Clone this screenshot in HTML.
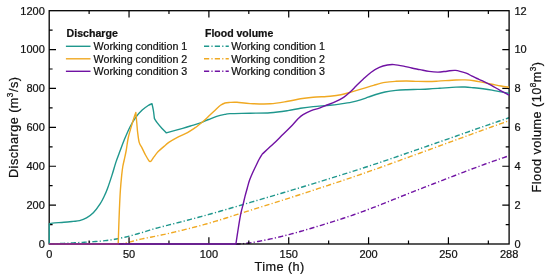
<!DOCTYPE html>
<html><head><meta charset="utf-8"><style>html,body{margin:0;padding:0;background:#fff;overflow:hidden}svg{display:block}</style></head><body>
<svg width="550" height="278" viewBox="0 0 550 278">
<rect width="550" height="278" fill="#fff"/>
<path d="M49.20 244.00 L50.80 243.93 L52.39 243.86 L53.99 243.78 L55.59 243.71 L57.18 243.63 L58.78 243.56 L60.38 243.48 L61.98 243.40 L63.57 243.33 L65.17 243.25 L66.77 243.17 L68.36 243.09 L69.96 243.01 L71.56 242.93 L73.15 242.85 L74.75 242.77 L76.35 242.69 L77.94 242.61 L79.54 242.52 L81.14 242.44 L82.73 242.35 L84.33 242.26 L85.93 242.17 L87.53 242.08 L89.12 241.98 L90.72 241.88 L92.32 241.77 L93.91 241.66 L95.51 241.54 L97.11 241.41 L98.70 241.28 L100.30 241.14 L101.90 240.99 L103.49 240.83 L105.09 240.66 L106.69 240.47 L108.28 240.27 L109.88 240.06 L111.48 239.83 L113.08 239.58 L114.67 239.31 L116.27 239.02 L117.87 238.72 L119.46 238.40 L121.06 238.06 L122.66 237.71 L124.25 237.35 L125.85 236.97 L127.45 236.58 L129.04 236.17 L130.64 235.76 L132.24 235.33 L133.83 234.89 L135.43 234.45 L137.03 233.99 L138.62 233.53 L140.22 233.06 L141.82 232.59 L143.42 232.11 L145.01 231.63 L146.61 231.14 L148.21 230.65 L149.80 230.15 L151.40 229.65 L153.00 229.15 L154.59 228.69 L156.19 228.25 L157.79 227.81 L159.38 227.38 L160.98 226.96 L162.58 226.55 L164.18 226.14 L165.77 225.74 L167.37 225.34 L168.97 224.94 L170.56 224.54 L172.16 224.14 L173.76 223.73 L175.35 223.33 L176.95 222.92 L178.55 222.51 L180.14 222.10 L181.74 221.69 L183.34 221.28 L184.93 220.86 L186.53 220.45 L188.13 220.03 L189.73 219.61 L191.32 219.18 L192.92 218.76 L194.52 218.34 L196.11 217.91 L197.71 217.48 L199.31 217.05 L200.90 216.62 L202.50 216.18 L204.10 215.74 L205.69 215.31 L207.29 214.86 L208.89 214.42 L210.48 213.97 L212.08 213.52 L213.68 213.07 L215.28 212.62 L216.87 212.16 L218.47 211.71 L220.07 211.25 L221.66 210.79 L223.26 210.33 L224.86 209.87 L226.45 209.40 L228.05 208.94 L229.65 208.47 L231.24 208.01 L232.84 207.54 L234.44 207.07 L236.03 206.61 L237.63 206.14 L239.23 205.67 L240.83 205.21 L242.42 204.74 L244.02 204.27 L245.62 203.80 L247.21 203.34 L248.81 202.87 L250.41 202.40 L252.00 201.93 L253.60 201.47 L255.20 201.00 L256.79 200.53 L258.39 200.06 L259.99 199.59 L261.58 199.13 L263.18 198.66 L264.78 198.19 L266.38 197.72 L267.97 197.25 L269.57 196.78 L271.17 196.31 L272.76 195.84 L274.36 195.37 L275.96 194.90 L277.55 194.43 L279.15 193.95 L280.75 193.48 L282.34 193.01 L283.94 192.53 L285.54 192.06 L287.13 191.58 L288.73 191.10 L290.33 190.62 L291.93 190.15 L293.52 189.67 L295.12 189.18 L296.72 188.70 L298.31 188.22 L299.91 187.74 L301.51 187.25 L303.10 186.76 L304.70 186.28 L306.30 185.79 L307.89 185.30 L309.49 184.81 L311.09 184.32 L312.68 183.83 L314.28 183.34 L315.88 182.85 L317.48 182.36 L319.07 181.86 L320.67 181.37 L322.27 180.88 L323.86 180.38 L325.46 179.89 L327.06 179.39 L328.65 178.90 L330.25 178.40 L331.85 177.91 L333.44 177.41 L335.04 176.91 L336.64 176.41 L338.23 175.92 L339.83 175.42 L341.43 174.91 L343.03 174.41 L344.62 173.91 L346.22 173.41 L347.82 172.90 L349.41 172.40 L351.01 171.89 L352.61 171.38 L354.20 170.87 L355.80 170.36 L357.40 169.85 L358.99 169.34 L360.59 168.83 L362.19 168.31 L363.78 167.79 L365.38 167.27 L366.98 166.75 L368.57 166.22 L370.17 165.70 L371.77 165.17 L373.37 164.64 L374.96 164.11 L376.56 163.57 L378.16 163.04 L379.75 162.50 L381.35 161.96 L382.95 161.42 L384.54 160.88 L386.14 160.33 L387.74 159.79 L389.33 159.24 L390.93 158.70 L392.53 158.15 L394.12 157.60 L395.72 157.05 L397.32 156.51 L398.92 155.96 L400.51 155.41 L402.11 154.86 L403.71 154.30 L405.30 153.75 L406.90 153.20 L408.50 152.65 L410.09 152.10 L411.69 151.55 L413.29 150.99 L414.88 150.44 L416.48 149.89 L418.08 149.34 L419.68 148.78 L421.27 148.23 L422.87 147.68 L424.47 147.12 L426.06 146.57 L427.66 146.02 L429.26 145.46 L430.85 144.91 L432.45 144.35 L434.05 143.80 L435.64 143.24 L437.24 142.69 L438.84 142.13 L440.43 141.57 L442.03 141.02 L443.63 140.46 L445.23 139.90 L446.82 139.34 L448.42 138.79 L450.02 138.23 L451.61 137.67 L453.21 137.11 L454.81 136.55 L456.40 135.99 L458.00 135.42 L459.60 134.86 L461.19 134.30 L462.79 133.74 L464.39 133.18 L465.98 132.62 L467.58 132.06 L469.18 131.50 L470.78 130.94 L472.37 130.38 L473.97 129.82 L475.57 129.26 L477.16 128.71 L478.76 128.15 L480.36 127.59 L481.95 127.04 L483.55 126.48 L485.15 125.93 L486.74 125.37 L488.34 124.82 L489.94 124.27 L491.53 123.72 L493.13 123.17 L494.73 122.62 L496.33 122.07 L497.92 121.53 L499.52 120.98 L501.12 120.44 L502.71 119.89 L504.31 119.35 L505.91 118.81 L507.50 118.27 L509.10 117.73" stroke="#1f978d" fill="none" stroke-width="1.40" stroke-linejoin="round" stroke-dasharray="5.2 2.2 1.2 2.2"/>
<path d="M118.34 244.00 L119.94 243.90 L121.54 243.70 L123.14 243.44 L124.73 243.14 L126.33 242.82 L127.93 242.46 L129.52 242.08 L131.12 241.67 L132.72 241.24 L134.31 240.80 L135.91 240.33 L137.51 239.90 L139.10 239.52 L140.70 239.16 L142.30 238.81 L143.89 238.47 L145.49 238.15 L147.09 237.84 L148.69 237.53 L150.28 237.24 L151.88 236.94 L153.48 236.63 L155.07 236.32 L156.67 236.00 L158.27 235.68 L159.86 235.34 L161.46 235.00 L163.06 234.66 L164.65 234.31 L166.25 233.96 L167.85 233.60 L169.44 233.24 L171.04 232.87 L172.64 232.50 L174.24 232.13 L175.83 231.75 L177.43 231.37 L179.03 230.99 L180.62 230.60 L182.22 230.22 L183.82 229.83 L185.41 229.43 L187.01 229.04 L188.61 228.64 L190.20 228.23 L191.80 227.83 L193.40 227.42 L194.99 227.01 L196.59 226.59 L198.19 226.17 L199.79 225.74 L201.38 225.31 L202.98 224.87 L204.58 224.43 L206.17 223.99 L207.77 223.54 L209.37 223.08 L210.96 222.62 L212.56 222.15 L214.16 221.68 L215.75 221.20 L217.35 220.72 L218.95 220.23 L220.54 219.74 L222.14 219.24 L223.74 218.74 L225.34 218.24 L226.93 217.73 L228.53 217.23 L230.13 216.72 L231.72 216.21 L233.32 215.71 L234.92 215.20 L236.51 214.69 L238.11 214.19 L239.71 213.68 L241.30 213.18 L242.90 212.67 L244.50 212.17 L246.09 211.66 L247.69 211.16 L249.29 210.66 L250.89 210.16 L252.48 209.65 L254.08 209.15 L255.68 208.65 L257.27 208.15 L258.87 207.65 L260.47 207.15 L262.06 206.64 L263.66 206.14 L265.26 205.64 L266.85 205.14 L268.45 204.64 L270.05 204.14 L271.64 203.64 L273.24 203.13 L274.84 202.63 L276.44 202.13 L278.03 201.62 L279.63 201.12 L281.23 200.61 L282.82 200.10 L284.42 199.60 L286.02 199.09 L287.61 198.58 L289.21 198.07 L290.81 197.56 L292.40 197.04 L294.00 196.53 L295.60 196.01 L297.19 195.50 L298.79 194.98 L300.39 194.46 L301.99 193.94 L303.58 193.42 L305.18 192.90 L306.78 192.38 L308.37 191.86 L309.97 191.34 L311.57 190.81 L313.16 190.29 L314.76 189.76 L316.36 189.24 L317.95 188.71 L319.55 188.19 L321.15 187.66 L322.74 187.13 L324.34 186.61 L325.94 186.08 L327.54 185.55 L329.13 185.02 L330.73 184.50 L332.33 183.97 L333.92 183.44 L335.52 182.91 L337.12 182.38 L338.71 181.84 L340.31 181.31 L341.91 180.78 L343.50 180.24 L345.10 179.71 L346.70 179.17 L348.29 178.63 L349.89 178.09 L351.49 177.54 L353.09 177.00 L354.68 176.45 L356.28 175.90 L357.88 175.35 L359.47 174.80 L361.07 174.25 L362.67 173.70 L364.26 173.14 L365.86 172.58 L367.46 172.02 L369.05 171.46 L370.65 170.90 L372.25 170.33 L373.84 169.77 L375.44 169.20 L377.04 168.63 L378.64 168.06 L380.23 167.48 L381.83 166.91 L383.43 166.33 L385.02 165.76 L386.62 165.18 L388.22 164.60 L389.81 164.02 L391.41 163.44 L393.01 162.86 L394.60 162.28 L396.20 161.70 L397.80 161.12 L399.39 160.54 L400.99 159.95 L402.59 159.37 L404.19 158.79 L405.78 158.21 L407.38 157.62 L408.98 157.04 L410.57 156.46 L412.17 155.88 L413.77 155.29 L415.36 154.71 L416.96 154.13 L418.56 153.55 L420.15 152.97 L421.75 152.39 L423.35 151.81 L424.94 151.23 L426.54 150.64 L428.14 150.06 L429.74 149.48 L431.33 148.90 L432.93 148.32 L434.53 147.74 L436.12 147.16 L437.72 146.57 L439.32 145.99 L440.91 145.41 L442.51 144.83 L444.11 144.24 L445.70 143.66 L447.30 143.07 L448.90 142.49 L450.49 141.90 L452.09 141.32 L453.69 140.73 L455.29 140.15 L456.88 139.56 L458.48 138.98 L460.08 138.39 L461.67 137.80 L463.27 137.22 L464.87 136.63 L466.46 136.04 L468.06 135.46 L469.66 134.87 L471.25 134.29 L472.85 133.70 L474.45 133.12 L476.04 132.54 L477.64 131.95 L479.24 131.37 L480.84 130.79 L482.43 130.21 L484.03 129.64 L485.63 129.06 L487.22 128.49 L488.82 127.91 L490.42 127.34 L492.01 126.77 L493.61 126.20 L495.21 125.63 L496.80 125.06 L498.40 124.49 L500.00 123.92 L501.59 123.36 L503.19 122.80 L504.79 122.23 L506.39 121.67 L507.98 121.11 L509.10 120.72" stroke="#f0a922" fill="none" stroke-width="1.40" stroke-linejoin="round" stroke-dasharray="5.2 2.2 1.2 2.2"/>
<path d="M235.56 244.00 L237.15 243.99 L238.75 243.94 L240.35 243.86 L241.94 243.75 L243.54 243.61 L245.14 243.45 L246.73 243.27 L248.33 243.06 L249.93 242.84 L251.52 242.60 L253.12 242.35 L254.72 242.09 L256.31 241.81 L257.91 241.52 L259.51 241.22 L261.11 240.91 L262.70 240.59 L264.30 240.27 L265.90 239.94 L267.49 239.60 L269.09 239.26 L270.69 238.91 L272.28 238.56 L273.88 238.20 L275.48 237.84 L277.07 237.47 L278.67 237.10 L280.27 236.72 L281.86 236.34 L283.46 235.94 L285.06 235.55 L286.66 235.15 L288.25 234.74 L289.85 234.32 L291.45 233.90 L293.04 233.48 L294.64 233.05 L296.24 232.61 L297.83 232.17 L299.43 231.72 L301.03 231.26 L302.62 230.80 L304.22 230.34 L305.82 229.88 L307.41 229.41 L309.01 228.94 L310.61 228.46 L312.21 227.99 L313.80 227.51 L315.40 227.03 L317.00 226.54 L318.59 226.06 L320.19 225.57 L321.79 225.09 L323.38 224.60 L324.98 224.10 L326.58 223.61 L328.17 223.11 L329.77 222.61 L331.37 222.11 L332.96 221.61 L334.56 221.10 L336.16 220.59 L337.76 220.08 L339.35 219.57 L340.95 219.05 L342.55 218.53 L344.14 218.00 L345.74 217.48 L347.34 216.94 L348.93 216.40 L350.53 215.86 L352.13 215.31 L353.72 214.76 L355.32 214.20 L356.92 213.64 L358.51 213.07 L360.11 212.49 L361.71 211.91 L363.31 211.32 L364.90 210.73 L366.50 210.13 L368.10 209.53 L369.69 208.93 L371.29 208.31 L372.89 207.70 L374.48 207.08 L376.08 206.46 L377.68 205.83 L379.27 205.20 L380.87 204.57 L382.47 203.93 L384.06 203.30 L385.66 202.66 L387.26 202.02 L388.86 201.38 L390.45 200.74 L392.05 200.10 L393.65 199.46 L395.24 198.82 L396.84 198.18 L398.44 197.54 L400.03 196.90 L401.63 196.26 L403.23 195.63 L404.82 194.99 L406.42 194.36 L408.02 193.72 L409.61 193.09 L411.21 192.46 L412.81 191.83 L414.41 191.21 L416.00 190.58 L417.60 189.95 L419.20 189.33 L420.79 188.70 L422.39 188.08 L423.99 187.46 L425.58 186.84 L427.18 186.22 L428.78 185.60 L430.37 184.99 L431.97 184.37 L433.57 183.76 L435.16 183.14 L436.76 182.52 L438.36 181.91 L439.96 181.30 L441.55 180.68 L443.15 180.06 L444.75 179.45 L446.34 178.83 L447.94 178.21 L449.54 177.59 L451.13 176.97 L452.73 176.36 L454.33 175.74 L455.92 175.12 L457.52 174.50 L459.12 173.88 L460.71 173.26 L462.31 172.65 L463.91 172.03 L465.51 171.42 L467.10 170.81 L468.70 170.20 L470.30 169.60 L471.89 169.00 L473.49 168.40 L475.09 167.80 L476.68 167.21 L478.28 166.62 L479.88 166.03 L481.47 165.44 L483.07 164.86 L484.67 164.28 L486.26 163.70 L487.86 163.13 L489.46 162.55 L491.06 161.98 L492.65 161.42 L494.25 160.86 L495.85 160.30 L497.44 159.74 L499.04 159.19 L500.64 158.64 L502.23 158.09 L503.83 157.55 L505.43 157.01 L507.02 156.47 L508.62 155.93 L509.10 155.77" stroke="#7012a3" fill="none" stroke-width="1.40" stroke-linejoin="round" stroke-dasharray="5.2 2.2 1.2 2.2"/>
<rect x="49.20" y="10.70" width="459.90" height="233.30" fill="none" stroke="#000" stroke-width="1.3"/>
<path d="M49.20 224.56h3.40M509.10 224.56h-3.40M49.20 205.12h6.80M509.10 205.12h-6.80M49.20 185.67h3.40M509.10 185.67h-3.40M49.20 166.23h6.80M509.10 166.23h-6.80M49.20 146.79h3.40M509.10 146.79h-3.40M49.20 127.35h6.80M509.10 127.35h-6.80M49.20 107.91h3.40M509.10 107.91h-3.40M49.20 88.47h6.80M509.10 88.47h-6.80M49.20 69.02h3.40M509.10 69.02h-3.40M49.20 49.58h6.80M509.10 49.58h-6.80M49.20 30.14h3.40M509.10 30.14h-3.40M89.12 244.00v-3.40M89.12 10.70v3.40M129.04 244.00v-6.80M129.04 10.70v6.80M168.97 244.00v-3.40M168.97 10.70v3.40M208.89 244.00v-6.80M208.89 10.70v6.80M248.81 244.00v-3.40M248.81 10.70v3.40M288.73 244.00v-6.80M288.73 10.70v6.80M328.65 244.00v-3.40M328.65 10.70v3.40M368.57 244.00v-6.80M368.57 10.70v6.80M408.50 244.00v-3.40M408.50 10.70v3.40M448.42 244.00v-6.80M448.42 10.70v6.80M488.34 244.00v-3.40M488.34 10.70v3.40" stroke="#000" stroke-width="1.2" fill="none"/>
<path d="M49.30 244.00L49.30 223.70C49.83 223.77 50.07 223.37 52.50 223.10C54.93 222.83 60.48 222.58 63.90 222.30C67.32 222.02 70.38 221.68 73.00 221.40C75.62 221.12 77.35 221.18 79.60 220.60C81.85 220.02 84.22 219.20 86.50 217.90C88.78 216.60 91.03 215.13 93.30 212.80C95.57 210.47 98.28 206.65 100.10 203.90C101.92 201.15 102.95 198.92 104.20 196.30C105.45 193.68 106.30 191.73 107.60 188.20C108.90 184.67 110.58 179.53 112.00 175.10C113.42 170.67 114.75 165.65 116.10 161.60C117.45 157.55 118.75 154.40 120.10 150.80C121.45 147.20 122.53 144.02 124.20 140.00C125.87 135.98 128.12 130.55 130.10 126.70C132.08 122.85 134.08 119.67 136.10 116.90C138.12 114.13 140.18 112.00 142.20 110.10C144.22 108.20 146.57 106.57 148.20 105.50C149.83 104.43 151.37 104.00 152.00 103.70C152.23 104.83 153.00 108.03 153.40 110.50C153.80 112.97 154.23 117.17 154.40 118.50C154.88 119.23 156.07 121.28 157.30 122.90C158.53 124.52 160.30 126.53 161.80 128.20C163.30 129.87 165.55 132.12 166.30 132.90C169.03 132.13 178.35 129.55 182.70 128.30C187.05 127.05 189.43 126.30 192.40 125.40C195.37 124.50 197.80 123.88 200.50 122.90C203.20 121.92 205.90 120.58 208.60 119.50C211.30 118.42 214.00 117.25 216.70 116.40C219.40 115.55 222.58 114.87 224.80 114.40C227.02 113.93 225.77 113.80 230.00 113.60C234.23 113.40 243.48 113.35 250.20 113.20C256.92 113.05 264.02 113.13 270.30 112.70C276.58 112.27 282.87 111.33 287.90 110.60C292.93 109.87 296.30 108.97 300.50 108.30C304.70 107.63 308.18 107.10 313.10 106.60C318.02 106.10 325.37 105.75 330.00 105.30C334.63 104.85 337.27 104.43 340.90 103.90C344.53 103.37 348.53 102.77 351.80 102.10C355.07 101.43 357.77 100.72 360.50 99.90C363.23 99.08 365.65 98.10 368.20 97.20C370.75 96.30 373.00 95.37 375.80 94.50C378.60 93.63 381.65 92.68 385.00 92.00C388.35 91.32 392.27 90.78 395.90 90.40C399.53 90.02 403.17 89.87 406.80 89.70C410.43 89.53 414.07 89.52 417.70 89.40C421.33 89.28 424.97 89.18 428.60 89.00C432.23 88.82 434.93 88.62 439.50 88.30C444.07 87.98 451.75 87.32 456.00 87.10C460.25 86.88 462.00 86.88 465.00 87.00C468.00 87.12 471.00 87.50 474.00 87.80C477.00 88.10 480.00 88.42 483.00 88.80C486.00 89.18 489.00 89.58 492.00 90.10C495.00 90.62 498.15 91.37 501.00 91.90C503.85 92.43 507.75 93.07 509.10 93.30" stroke="#1f978d" fill="none" stroke-width="1.40" stroke-linejoin="round"/>
<path d="M49.20 244.00L118.20 244.00C118.33 240.00 118.77 226.50 119.00 220.00C119.23 213.50 119.37 210.00 119.60 205.00C119.83 200.00 120.05 194.98 120.40 190.00C120.75 185.02 121.30 179.02 121.70 175.10C122.10 171.18 122.38 169.02 122.80 166.50C123.22 163.98 123.63 162.67 124.20 160.00C124.77 157.33 125.53 154.17 126.20 150.50C126.87 146.83 127.23 142.38 128.20 138.00C129.17 133.62 130.73 128.47 132.00 124.20C133.27 119.93 135.17 114.37 135.80 112.40C135.98 114.37 136.60 120.93 136.90 124.20C137.20 127.47 137.22 128.97 137.60 132.00C137.98 135.03 138.45 139.72 139.20 142.40C139.95 145.08 141.05 146.00 142.10 148.10C143.15 150.20 144.35 152.88 145.50 155.00C146.65 157.12 148.23 159.70 149.00 160.80C149.77 161.90 149.92 161.47 150.10 161.60C150.33 161.43 150.83 161.42 151.50 160.60C152.17 159.78 152.98 158.20 154.10 156.70C155.22 155.20 156.55 153.32 158.20 151.60C159.85 149.88 162.23 147.93 164.00 146.40C165.77 144.87 166.57 143.92 168.80 142.40C171.03 140.88 174.28 138.93 177.40 137.30C180.52 135.67 184.45 134.25 187.50 132.60C190.55 130.95 194.33 128.27 195.70 127.40C196.82 126.50 200.25 123.85 202.40 122.00C204.55 120.15 206.48 118.27 208.60 116.30C210.72 114.33 213.12 112.03 215.10 110.20C217.08 108.37 218.85 106.50 220.50 105.30C222.15 104.10 223.42 103.48 225.00 103.00C226.58 102.52 228.00 102.52 230.00 102.40C232.00 102.28 233.63 102.10 237.00 102.30C240.37 102.50 244.65 103.35 250.20 103.60C255.75 103.85 264.02 104.18 270.30 103.80C276.58 103.42 282.87 102.13 287.90 101.30C292.93 100.47 296.30 99.47 300.50 98.80C304.70 98.13 308.18 97.73 313.10 97.30C318.02 96.87 325.37 96.62 330.00 96.20C334.63 95.78 337.27 95.53 340.90 94.80C344.53 94.07 348.17 92.83 351.80 91.80C355.43 90.77 359.07 89.68 362.70 88.60C366.33 87.52 369.88 86.33 373.60 85.30C377.32 84.27 381.28 83.07 385.00 82.40C388.72 81.73 392.27 81.53 395.90 81.30C399.53 81.07 403.17 80.98 406.80 81.00C410.43 81.02 414.07 81.32 417.70 81.40C421.33 81.48 425.22 81.55 428.60 81.50C431.98 81.45 433.43 81.35 438.00 81.10C442.57 80.85 451.50 80.20 456.00 80.00C460.50 79.80 462.00 79.78 465.00 79.90C468.00 80.02 471.00 80.28 474.00 80.70C477.00 81.12 480.00 81.82 483.00 82.40C486.00 82.98 489.00 83.60 492.00 84.20C495.00 84.80 498.15 85.50 501.00 86.00C503.85 86.50 507.75 87.00 509.10 87.20" stroke="#f0a922" fill="none" stroke-width="1.40" stroke-linejoin="round"/>
<path d="M49.20 244.00L235.90 244.00C236.27 241.58 237.30 234.47 238.10 229.50C238.90 224.53 239.87 218.38 240.70 214.20C241.53 210.02 242.38 207.37 243.10 204.40C243.82 201.43 244.30 199.13 245.00 196.40C245.70 193.67 246.53 190.72 247.30 188.00C248.07 185.28 248.62 182.85 249.60 180.10C250.58 177.35 252.00 174.18 253.20 171.50C254.40 168.82 255.83 166.00 256.80 164.00C257.77 162.00 258.08 161.17 259.00 159.50C259.92 157.83 261.75 154.92 262.30 154.00C264.20 152.27 270.23 146.90 273.70 143.60C277.17 140.30 279.97 137.32 283.10 134.20C286.23 131.08 289.93 127.55 292.50 124.90C295.07 122.25 296.73 120.02 298.50 118.30C300.27 116.58 300.98 115.87 303.10 114.60C305.22 113.33 308.50 111.77 311.20 110.70C313.90 109.63 317.00 109.02 319.30 108.20C321.60 107.38 322.30 106.88 325.00 105.80C327.70 104.72 332.40 103.10 335.50 101.70C338.60 100.30 341.17 99.02 343.60 97.40C346.03 95.78 347.93 93.98 350.10 92.00C352.27 90.02 354.43 87.62 356.60 85.50C358.77 83.38 360.67 81.52 363.10 79.30C365.53 77.08 368.50 74.18 371.20 72.20C373.90 70.22 376.60 68.60 379.30 67.40C382.00 66.20 384.95 65.47 387.40 65.00C389.85 64.53 391.30 64.42 394.00 64.60C396.70 64.78 400.65 65.53 403.60 66.10C406.55 66.67 408.97 67.42 411.70 68.00C414.43 68.58 417.12 69.03 420.00 69.60C422.88 70.17 426.00 70.98 429.00 71.40C432.00 71.82 435.00 72.13 438.00 72.10C441.00 72.07 444.08 71.48 447.00 71.20C449.92 70.92 452.30 70.07 455.50 70.40C458.70 70.73 463.52 72.28 466.20 73.20C468.88 74.12 469.80 75.02 471.60 75.90C473.40 76.78 475.27 77.72 477.00 78.50C478.73 79.28 479.67 79.48 482.00 80.60C484.33 81.72 488.00 83.58 491.00 85.20C494.00 86.82 496.98 88.63 500.00 90.30C503.02 91.97 507.58 94.38 509.10 95.20" stroke="#7012a3" fill="none" stroke-width="1.40" stroke-linejoin="round"/>
<g style="font-family:'Liberation Sans',Arial,sans-serif;font-size:11px" fill="#111" stroke="#111" stroke-width="0.22"><text x="44.8" y="247.90" text-anchor="end">0</text><text x="44.8" y="209.02" text-anchor="end">200</text><text x="44.8" y="170.13" text-anchor="end">400</text><text x="44.8" y="131.25" text-anchor="end">600</text><text x="44.8" y="92.37" text-anchor="end">800</text><text x="44.8" y="53.48" text-anchor="end">1000</text><text x="44.8" y="14.60" text-anchor="end">1200</text><text x="514.5" y="247.90">0</text><text x="514.5" y="209.02">2</text><text x="514.5" y="170.13">4</text><text x="514.5" y="131.25">6</text><text x="514.5" y="92.37">8</text><text x="514.5" y="53.48">10</text><text x="514.5" y="14.60">12</text><text x="49.20" y="257.6" text-anchor="middle">0</text><text x="129.04" y="257.6" text-anchor="middle">50</text><text x="208.89" y="257.6" text-anchor="middle">100</text><text x="288.73" y="257.6" text-anchor="middle">150</text><text x="368.57" y="257.6" text-anchor="middle">200</text><text x="448.42" y="257.6" text-anchor="middle">250</text><text x="509.10" y="257.6" text-anchor="middle">288</text></g>
<g style="font-family:'Liberation Sans',Arial,sans-serif;font-size:12.7px;letter-spacing:0.45px" fill="#111" stroke="#111" stroke-width="0.22">
<text x="279.6" y="271.2" text-anchor="middle">Time (h)</text>
<text transform="translate(18.4 127.3) rotate(-90)" text-anchor="middle">Discharge (m<tspan dy="-5.5" style="font-size:8.3px">3</tspan><tspan dy="5.5">/s)</tspan></text>
<text transform="translate(541 127) rotate(-90)" text-anchor="middle">Flood volume (10<tspan dy="-5.5" style="font-size:8.3px">8</tspan><tspan dy="5.5">m</tspan><tspan dy="-5.5" style="font-size:8.3px">3</tspan><tspan dy="5.5">)</tspan></text>
</g>
<g style="font-family:'Liberation Sans',Arial,sans-serif;font-size:10.7px" fill="#111" stroke="#111" stroke-width="0.22"><text x="66.6" y="37" style="font-weight:bold;font-size:10.6px">Discharge</text><text x="205.0" y="37" style="font-weight:bold;font-size:10.5px">Flood volume</text><path d="M65.9 46.30H90.5" stroke="#1f978d" stroke-width="1.40"/><path d="M204.0 46.30H228.8" stroke="#1f978d" stroke-width="1.40" stroke-dasharray="5.2 2.2 1.2 2.2"/><text x="93.6" y="50.30">Working condition 1</text><text x="231.2" y="50.30">Working condition 1</text><path d="M65.9 58.80H90.5" stroke="#f0a922" stroke-width="1.40"/><path d="M204.0 58.80H228.8" stroke="#f0a922" stroke-width="1.40" stroke-dasharray="5.2 2.2 1.2 2.2"/><text x="93.6" y="62.80">Working condition 2</text><text x="231.2" y="62.80">Working condition 2</text><path d="M65.9 71.30H90.5" stroke="#7012a3" stroke-width="1.40"/><path d="M204.0 71.30H228.8" stroke="#7012a3" stroke-width="1.40" stroke-dasharray="5.2 2.2 1.2 2.2"/><text x="93.6" y="75.30">Working condition 3</text><text x="231.2" y="75.30">Working condition 3</text></g>
</svg>
</body></html>
